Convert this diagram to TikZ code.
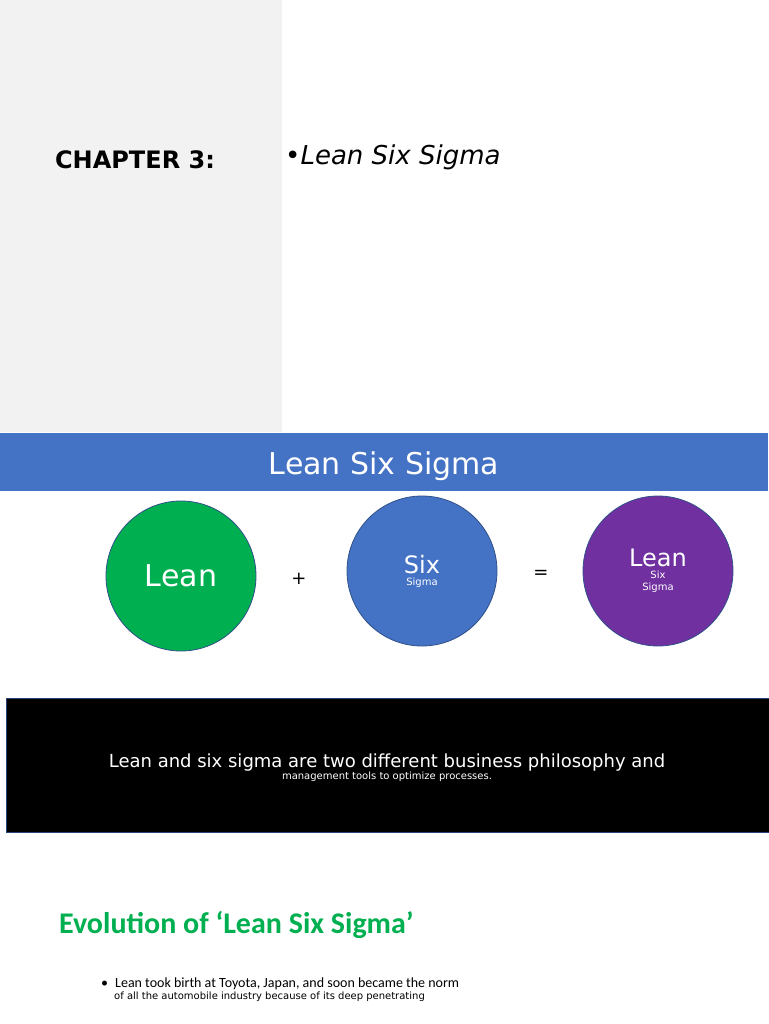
\documentclass[tikz,border=0pt]{standalone}
\usepackage{fontspec}
\setmainfont{DejaVu Sans}
\newfontfamily\carlfont{Carlito}
\definecolor{gbg}{HTML}{F2F2F2}
\definecolor{bband}{HTML}{4472C4}
\definecolor{gr}{HTML}{00B050}
\definecolor{pu}{HTML}{7030A0}
\begin{document}
\begin{tikzpicture}[x=1pt,y=-1pt,
  circ/.style={circle,draw=bband!70!black,line width=0.8pt,minimum size=150pt,inner sep=0pt,text=white,align=center},
  wt/.style={text=white}]
\useasboundingbox (0,0) rectangle (768,1024);
\fill[white] (0,0) rectangle (768,1024);
\fill[gbg] (0,0) rectangle (282,432);
\node (ch) at (135,160) {\fontsize{24}{28}\selectfont\bfseries CHAPTER 3:};
\node[anchor=west,inner sep=0pt] (ti) at (285,157) {\fontsize{26}{30}\selectfont\itshape •Lean Six Sigma};
\fill[bband] (0,433) rectangle (768,491);
\node[wt] (hd) at (384,466) {\fontsize{30}{34}\selectfont Lean Six Sigma};
\node[circ,fill=gr] (c1) at (181,576) {\fontsize{30}{34}\selectfont Lean};
\node[circ,fill=bband] (c2) at (422,571) {\fontsize{24}{46}\selectfont Six\\Sigma};
\node[circ,fill=pu] (c3) at (658,571) {\fontsize{24}{45}\selectfont Lean\\Six\\Sigma};
\node (pl) at (299,579) {\fontsize{18}{20}\selectfont +};
\node (eq) at (541,574) {\fontsize{18}{20}\selectfont =};
\filldraw[fill=black,draw=bband!60!black] (6,698) rectangle (770,832);
\node[wt,align=center] (bx) at (387,768) {\fontsize{18}{34}\selectfont Lean and six sigma are two different business philosophy and\\management tools to optimize processes.};
\node[anchor=west,text=gr,inner sep=0pt] (ev) at (59,925) {\carlfont\bfseries\fontsize{30}{34}\selectfont Evolution of ‘Lean Six Sigma’};
\node[anchor=north west,align=left,inner sep=0pt] (b1) at (101,978) {\carlfont\fontsize{14}{22}\selectfont •\hspace{7pt}Lean took birth at Toyota, Japan, and soon became the norm\\\hspace{13pt}of all the automobile industry because of its deep penetrating};
\end{tikzpicture}
\end{document}
